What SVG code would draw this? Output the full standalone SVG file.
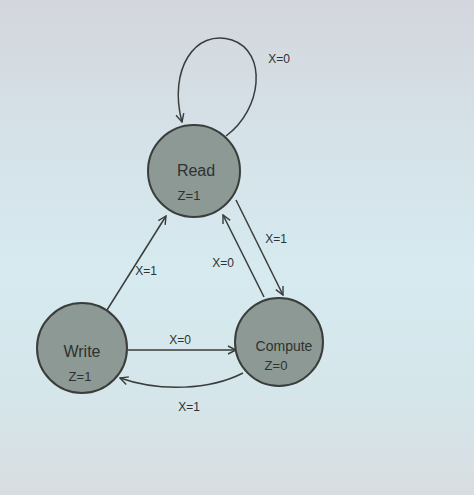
<svg xmlns="http://www.w3.org/2000/svg" width="474" height="495" viewBox="0 0 474 495">
<defs>
<linearGradient id="bg" x1="0" y1="0" x2="0" y2="1">
<stop offset="0" stop-color="#d3d6dc"/>
<stop offset="0.3" stop-color="#d5e3e9"/>
<stop offset="0.55" stop-color="#d6eaef"/>
<stop offset="0.8" stop-color="#d5e6ea"/>
<stop offset="1" stop-color="#d8dde1"/>
</linearGradient>
<marker id="arr" viewBox="0 0 10 10" refX="9" refY="5" markerWidth="10" markerHeight="10" markerUnits="userSpaceOnUse" orient="auto">
<path d="M1,1 L9,5 L1,9" fill="none" stroke="#3a3d3c" stroke-width="1.4"/>
</marker>
<style>
.st{fill:#8d9994;stroke:#3a3d3c;stroke-width:2}
.nm{font-family:"Liberation Sans",sans-serif;font-size:16px;fill:#2e3230;text-anchor:middle}
.out{font-family:"Liberation Sans",sans-serif;font-size:13px;fill:#2e3230;text-anchor:middle}
.lbl{font-family:"Liberation Sans",sans-serif;font-size:12px;fill:#2e3230;text-anchor:middle}
.ed{fill:none;stroke:#3a3d3c;stroke-width:1.5;marker-end:url(#arr)}
</style>
</defs>
<rect width="474" height="495" fill="url(#bg)"/>
<g id="connectors">
<path class="ed" d="M226,136 C262,110 268,52 232,40 C195,28 168,70 182,122"/>
<path class="ed" d="M107,310 L166,216"/>
<path class="ed" d="M264,297 L223,215"/>
<path class="ed" d="M236,200 L283,295"/>
<path class="ed" d="M128,350 L236,350"/>
<path class="ed" d="M243,373 C210,390 160,392 120,378"/>
</g>
<g id="labels">
<text class="lbl" x="279" y="63">X=0</text>
<text class="lbl" x="146" y="275">X=1</text>
<text class="lbl" x="223" y="267">X=0</text>
<text class="lbl" x="276" y="243">X=1</text>
<text class="lbl" x="180" y="344">X=0</text>
<text class="lbl" x="189" y="411">X=1</text>
</g>
<g id="read">
<circle class="st" cx="194" cy="171" r="46"/>
<text class="nm" x="196" y="176">Read</text>
<text class="out" x="189" y="200">Z=1</text>
</g>
<g id="write">
<circle class="st" cx="82" cy="348" r="45"/>
<text class="nm" x="82" y="357">Write</text>
<text class="out" x="80" y="381">Z=1</text>
</g>
<g id="compute">
<circle class="st" cx="279" cy="342" r="44"/>
<text class="nm" x="284" y="351" style="font-size:14px">Compute</text>
<text class="out" x="276" y="370">Z=0</text>
</g>
</svg>
